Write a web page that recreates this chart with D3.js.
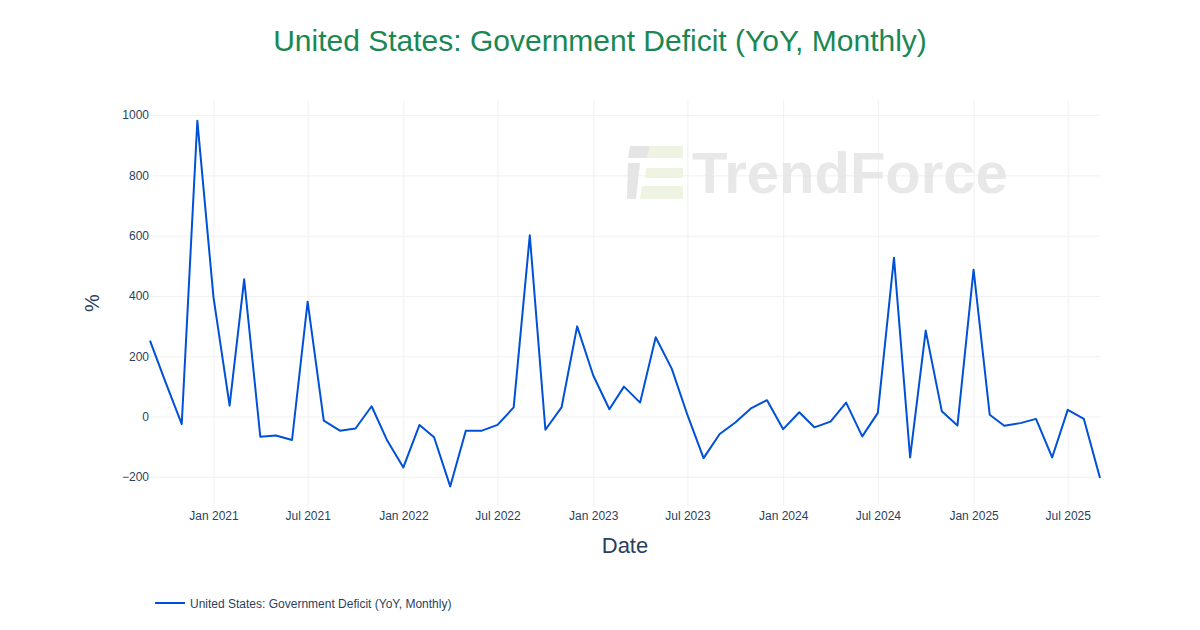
<!DOCTYPE html>
<html>
<head>
<meta charset="utf-8">
<script src="https://cdn.jsdelivr.net/npm/d3@7"></script>
<style>
  body { margin: 0; background: #fff; font-family: "Liberation Sans", Arial, sans-serif; }
  .axis text { fill: #2a3f5f; font-size: 12px; font-family: "Liberation Sans", Arial, sans-serif; }
  .axis path, .axis line { display: none; }
  .grid line { stroke: #f0f0f0; stroke-width: 1; }
  .grid path { display: none; }
</style>
</head>
<body>
<div id="chart"></div>
<script>
// monthly series, Sep 2020 .. Sep 2025
const startMonth = "2020-09";
const values = [
  252, 113, -25, 981, 396, 36, 455, -67, -63, -78, 381, -14,
  -47, -40, 34, -80, -169, -28, -69, -232, -47, -47, -28, 30,
  601, -44, 30, 299, 136, 24, 99, 46, 263, 158, 5, -138,
  -58, -20, 28, 54, -42, 14, -36, -17, 46, -66, 12, 527,
  -136, 285, 17, -30, 487, 6, -31, -22, -8, -136, 22, -8,
  -204
];
const yTicks = [-200, 0, 200, 400, 600, 800, 1000];
const seriesName = "United States: Government Deficit (YoY, Monthly)";

const parse = d3.timeParse("%Y-%m");
const t0 = parse(startMonth);
const data = values.map((v, i) => ({ date: d3.timeMonth.offset(t0, i), value: v }));

const fullW = 1200, fullH = 630;
const margin = { top: 100, right: 100, bottom: 124, left: 150 };
const W = fullW - margin.left - margin.right;
const H = fullH - margin.top - margin.bottom;

const svg = d3.select("#chart").append("svg")
  .attr("width", fullW).attr("height", fullH);

// title
svg.append("text")
  .attr("x", fullW / 2).attr("y", 51)
  .attr("text-anchor", "middle")
  .style("font-size", "30px")
  .style("fill", "#1a8754")
  .text(seriesName);

const g = svg.append("g").attr("transform", `translate(${margin.left},${margin.top})`);

const x = d3.scaleTime()
  .domain([data[0].date, data[data.length - 1].date])
  .range([0, W]);
const y = d3.scaleLinear().domain([-297, 1050]).range([H, 0]);

const xTicks = d3.timeMonth.every(6).range(d3.timeMonth.offset(t0, 1), d3.timeMonth.offset(data[data.length - 1].date, 1));

// grid
g.append("g").attr("class", "grid")
  .call(d3.axisBottom(x).tickValues(xTicks).tickSize(H).tickFormat(""));
g.append("g").attr("class", "grid")
  .call(d3.axisLeft(y).tickValues(yTicks).tickSize(-W).tickFormat(""));

// watermark
const wm = g.append("g").attr("transform", "translate(476,46)").attr("opacity", 0.9);
wm.append("path").attr("d", "M4,0 L36,0 L32,12 L2,12 Z M2,17 L14,17 L10,53 L1,53 Z").attr("fill", "#e3e3e3");
wm.append("path").attr("d", "M24,0 L57,0 L57,12 L21,12 Z M20,22 L57,22 L57,32 L19,32 Z M16,40 L57,40 L57,53 L14,53 Z").attr("fill", "#eef3df");
wm.append("text")
  .attr("x", 66).attr("y", 47)
  .style("font-size", "58px").style("font-weight", "bold")
  .style("fill", "#e6e6e6")
  .text("TrendForce");

// axes
g.append("g").attr("class", "axis")
  .attr("transform", `translate(0,${H})`)
  .call(d3.axisBottom(x).tickValues(xTicks).tickSize(0).tickPadding(5).tickFormat(d3.timeFormat("%b %Y")));
g.append("g").attr("class", "axis")
  .call(d3.axisLeft(y).tickValues(yTicks).tickSize(0).tickPadding(1)
    .tickFormat(d => d < 0 ? "\u2212" + Math.abs(d) : d));

// axis titles
svg.append("text")
  .attr("x", margin.left + W / 2).attr("y", 553)
  .attr("text-anchor", "middle")
  .style("font-size", "22px").style("fill", "#2a3f5f")
  .text("Date");
svg.append("text")
  .attr("transform", "translate(99,303) rotate(-90)")
  .attr("text-anchor", "middle")
  .style("font-size", "20px").style("fill", "#2a3f5f")
  .text("%");

// line
const line = d3.line().x(d => x(d.date)).y(d => y(d.value));
g.append("path")
  .datum(data)
  .attr("fill", "none")
  .attr("stroke", "#0050d8")
  .attr("stroke-width", 2)
  .attr("stroke-linejoin", "round")
  .attr("d", line);

// legend
const lg = svg.append("g").attr("transform", "translate(155,603)");
lg.append("line").attr("x1", 0).attr("x2", 30).attr("y1", 0).attr("y2", 0)
  .attr("stroke", "#0050d8").attr("stroke-width", 2);
lg.append("text").attr("x", 35).attr("y", 4.5)
  .style("font-size", "12px").style("fill", "#2a3f5f")
  .text(seriesName);
</script>
</body>
</html>
